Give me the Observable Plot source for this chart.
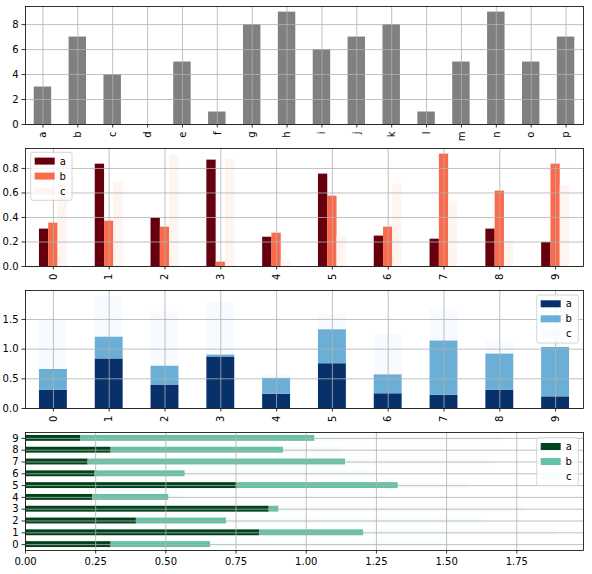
<!DOCTYPE html>
<html>
<head>
<meta charset="utf-8">
<script src="https://cdn.jsdelivr.net/npm/d3@7"></script>
<script src="https://cdn.jsdelivr.net/npm/@observablehq/plot@0.6"></script>
<style>
  body { margin: 0; background: white; }
  #wrap { width: 592px; }
  #wrap svg { display: block; }
</style>
</head>
<body>
<div id="wrap"></div>
<script>
// ---- data ----
const cats1 = ["a","b","c","d","e","f","g","h","i","j","k","l","m","n","o","p"];
const vals1 = [3,7,4,0,5,1,8,9,6,7,8,1,5,9,5,7];

const idx = ["0","1","2","3","4","5","6","7","8","9"];
const seriesNames = ["a","b","c"];
const seriesA = [0.305,0.835,0.395,0.868,0.239,0.754,0.248,0.223,0.305,0.196];
const seriesB = [0.354,0.370,0.321,0.035,0.272,0.574,0.321,0.917,0.615,0.835];
const seriesC = [0.824,0.688,0.909,0.876,0.052,0.250,0.672,0.533,0.207,0.658];

const colors1 = ["#808080"];
const colorsReds = ["#67000d","#fb6a4a","#fff5f0"];
const colorsBlues = ["#08306b","#6baed6","#f7fbff"];
const colorsBuGn = ["#00441b","#66c2a4","#f7fcfd"];

// ---- helpers ----
const series = [seriesA, seriesB, seriesC];
const long = [];
idx.forEach((k, i) => {
  let cum = 0;
  series.forEach((s, j) => {
    long.push({i, j, name: seriesNames[j], v: s[i], lo: cum, hi: cum + s[i]});
    cum += s[i];
  });
});
const maxSum = d3.max(idx.map((k, i) => seriesA[i] + seriesB[i] + seriesC[i]));
const gridColor = "#b0b0b0";
const style = {fontFamily: "DejaVu Sans", fontSize: "10px", background: "white", color: "black", overflow: "visible"};
const tk = {tickSize: 3.5, tickPadding: 3.5, fontSize: 10, label: null, strokeWidth: 0.8};

function base(opts) {
  return Plot.plot(Object.assign({
    width: 592, height: 142,
    marginLeft: 25, marginRight: 9, marginTop: 6, marginBottom: 18,
    style
  }, opts));
}

function legend(svg, x, y, w, colors) {
  const g = d3.select(svg).append("g");
  g.append("rect").attr("x", x).attr("y", y).attr("width", w).attr("height", 48)
    .attr("rx", 2).attr("fill", "white").attr("fill-opacity", 0.8)
    .attr("stroke", "#cccccc").attr("stroke-width", 0.8);
  seriesNames.forEach((n, k) => {
    const cy = y + 8.8 + 15 * k;
    g.append("rect").attr("x", x + 4).attr("y", cy - 3.5).attr("width", 20).attr("height", 7)
      .attr("fill", colors[k]);
    g.append("text").attr("x", x + 32).attr("y", cy).attr("dy", "0.35em")
      .attr("font-family", "DejaVu Sans").attr("font-size", 10).attr("fill", "black").text(n);
  });
}

const wrap = document.getElementById("wrap");

// ---- chart 1 ----
const d1 = cats1.map((c, i) => ({i, c, v: vals1[i]}));
const p1 = base({
  x: {domain: [-0.5, cats1.length - 0.5]},
  y: {domain: [0, d3.max(vals1) * 1.05]},
  marks: [
    Plot.rect(d1, {x1: d => d.i - 0.25, x2: d => d.i + 0.25, y1: 0, y2: "v", fill: colors1[0]}),
    Plot.gridX(d3.range(cats1.length), {stroke: gridColor, strokeOpacity: 1, strokeWidth: 0.8}),
    Plot.gridY([0,2,4,6,8], {stroke: gridColor, strokeOpacity: 1, strokeWidth: 0.8}),
    Plot.axisX(d3.range(cats1.length), {...tk, tickFormat: i => cats1[i], tickRotate: -90}),
    Plot.axisY([0,2,4,6,8], {...tk}),
    Plot.frame({stroke: "black", strokeWidth: 0.8})
  ]
});
wrap.appendChild(p1);

// ---- chart 2 (grouped) ----
const w2 = 0.5 / 3;
const p2 = base({
  x: {domain: [-0.5, idx.length - 0.5]},
  y: {domain: [0, d3.max(long, d => d.v) * 1.05]},
  marks: [
    Plot.rect(long, {x1: d => d.i - 0.25 + d.j * w2, x2: d => d.i - 0.25 + (d.j + 1) * w2, y1: 0, y2: "v", fill: d => colorsReds[d.j]}),
    Plot.gridX(d3.range(idx.length), {stroke: gridColor, strokeOpacity: 1, strokeWidth: 0.8}),
    Plot.gridY([0,0.2,0.4,0.6,0.8], {stroke: gridColor, strokeOpacity: 1, strokeWidth: 0.8}),
    Plot.axisX(d3.range(idx.length), {...tk, tickFormat: i => idx[i], tickRotate: -90}),
    Plot.axisY([0,0.2,0.4,0.6,0.8], {...tk, tickFormat: d3.format(".1f")}),
    Plot.frame({stroke: "black", strokeWidth: 0.8})
  ]
});
wrap.appendChild(p2);
legend(p2, 30.7, 10.3, 41.3, colorsReds);

// ---- chart 3 (stacked vertical) ----
const p3 = base({
  x: {domain: [-0.5, idx.length - 0.5]},
  y: {domain: [0, maxSum * 1.05]},
  marks: [
    Plot.rect(long, {x1: d => d.i - 0.25, x2: d => d.i + 0.25, y1: "lo", y2: "hi", fill: d => colorsBlues[d.j]}),
    Plot.gridX(d3.range(idx.length), {stroke: gridColor, strokeOpacity: 1, strokeWidth: 0.8}),
    Plot.gridY([0,0.5,1,1.5], {stroke: gridColor, strokeOpacity: 1, strokeWidth: 0.8}),
    Plot.axisX(d3.range(idx.length), {...tk, tickFormat: i => idx[i], tickRotate: -90}),
    Plot.axisY([0,0.5,1,1.5], {...tk, tickFormat: d3.format(".1f")}),
    Plot.frame({stroke: "black", strokeWidth: 0.8})
  ]
});
wrap.appendChild(p3);
legend(p3, 536.7, 11, 41.6, colorsBlues);

// ---- chart 4 (stacked horizontal) ----
const xt4 = [0,0.25,0.5,0.75,1,1.25,1.5,1.75];
const p4 = base({
  height: 148, marginBottom: 24,
  y: {domain: [-0.5, idx.length - 0.5]},
  x: {domain: [0, maxSum * 1.05]},
  marks: [
    Plot.rect(long, {y1: d => d.i - 0.25, y2: d => d.i + 0.25, x1: "lo", x2: "hi", fill: d => colorsBuGn[d.j]}),
    Plot.gridX(xt4, {stroke: gridColor, strokeOpacity: 1, strokeWidth: 0.8}),
    Plot.gridY(d3.range(idx.length), {stroke: gridColor, strokeOpacity: 1, strokeWidth: 0.8}),
    Plot.axisX(xt4, {...tk, tickFormat: d3.format(".2f")}),
    Plot.axisY(d3.range(idx.length), {...tk, tickFormat: i => idx[i]}),
    Plot.frame({stroke: "black", strokeWidth: 0.8})
  ]
});
wrap.appendChild(p4);
legend(p4, 536.7, 11.7, 41.6, colorsBuGn);
</script>
</body>
</html>
